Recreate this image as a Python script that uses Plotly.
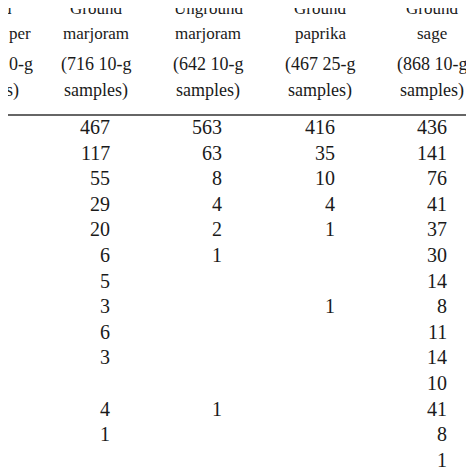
import plotly.graph_objects as go

headers = [
    ["Ground", "marjoram", "(716 10-g", "samples)"],
    ["Unground", "marjoram", "(642 10-g", "samples)"],
    ["Ground", "paprika", "(467 25-g", "samples)"],
    ["Ground", "sage", "(868 10-g", "samples)"],
]
partial_header = ["d", "per", "0-g", "s)"]
ground_marjoram = [467, 117, 55, 29, 20, 6, 5, 3, 6, 3, None, 4, 1, None]
unground_marjoram = [563, 63, 8, 4, 2, 1, None, None, None, None, None, 1, None, None]
ground_paprika = [416, 35, 10, 4, 1, None, None, 1, None, None, None, None, None, None]
ground_sage = [436, 141, 76, 41, 37, 30, 14, 8, 11, 14, 10, 41, 8, 1]
columns = [ground_marjoram, unground_marjoram, ground_paprika, ground_sage]

W = H = 474
font = "Times New Roman, Liberation Serif, DejaVu Serif, serif"
col = "#1a1a1a"
header_cx = [88, 200, 312, 424]
num_right = [104, 216, 329, 441]
header_y = [0, 25, 56, 82]
row_y0, row_dy = 119, 25.6

fig = go.Figure()
ann = []
def px(x, y):
    return x / W, 1 - y / H

for c, lines in enumerate(headers):
    for i, t in enumerate(lines):
        x, y = px(header_cx[c], header_y[i])
        ann.append(dict(x=x, y=y, text=t, xanchor="center", yanchor="middle",
                        font=dict(family=font, size=18 if i >= 2 else 17, color=col)))
for i, t in enumerate(partial_header):
    rx = [6, 25, 27, 13][i]
    x, y = px(rx, header_y[i])
    ann.append(dict(x=x, y=y, text=t, xanchor="right", yanchor="middle",
                    font=dict(family=font, size=18 if i >= 2 else 17, color=col)))
for c, vals in enumerate(columns):
    for r, v in enumerate(vals):
        if v is None:
            continue
        x, y = px(num_right[c], row_y0 + r * row_dy)
        ann.append(dict(x=x, y=y, text=str(v), xanchor="right", yanchor="middle",
                        font=dict(family=font, size=20, color=col)))
for a in ann:
    a.update(xref="paper", yref="paper", showarrow=False)

fig.update_layout(
    width=W, height=H, margin=dict(l=0, r=0, t=0, b=0),
    paper_bgcolor="white", plot_bgcolor="white",
    xaxis=dict(visible=False, range=[0, 1]), yaxis=dict(visible=False, range=[0, 1]),
    annotations=ann,
    shapes=[dict(type="line", xref="paper", yref="paper", x0=0, x1=1,
                 y0=1 - 107 / H, y1=1 - 107 / H, line=dict(color="#333", width=1.5))],
)
fig.write_html("out.html")
